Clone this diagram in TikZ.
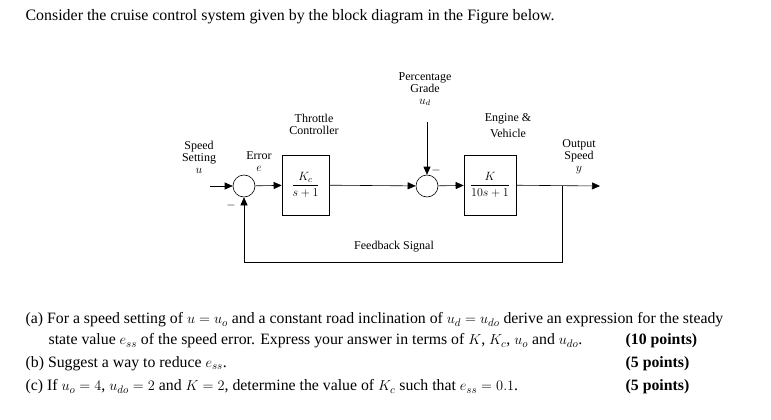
\documentclass[tikz,border=0pt]{standalone}
\usepackage{amsmath}
\usepackage{fontspec}
\setmainfont{Liberation Serif}
\usetikzlibrary{arrows.meta}
\begin{document}
\begin{tikzpicture}[x=1pt,y=-1pt,
 blk/.style={draw,minimum width=47pt,minimum height=60pt,inner sep=0pt,font=\fontsize{13}{14}\selectfont},
 sum/.style={draw,circle,minimum size=22pt,inner sep=0pt},
 lbl/.style={font=\fontsize{12}{12}\selectfont,align=center},
 txt/.style={font=\fontsize{15.8}{18}\selectfont,anchor=west},
 sig/.style={-{Triangle[length=8pt,width=7pt]}},
 line width=0.6pt]
\useasboundingbox (0,0) rectangle (771,420);
\node[txt,font=\fontsize{15.9}{18}\selectfont] (title) at (22,17) {Consider the cruise control system given by the block diagram in the Figure below.};
\node[sum] (s1) at (244,186) {};
\node[blk] (b1) at (305.5,185) {$\dfrac{K_c}{s+1}$};
\node[sum] (s2) at (427,186) {};
\node[blk,minimum width=52pt] (b2) at (490,185) {$\dfrac{K}{10s+1}$};
\coordinate (in) at (210,186);
\coordinate (out) at (600,186);
\coordinate (br) at (562,186);
\coordinate (fb1) at (562,262);
\coordinate (fb2) at (244,262);
\coordinate (dtop) at (427,122);
\draw[sig] (in) -- (s1);
\draw[sig] (s1) -- (b1);
\draw[sig] (b1) -- (s2);
\draw[sig] (s2) -- (b2);
\draw[sig] (b2) -- (out);
\draw[sig] (br) -- (fb1) -- (fb2) -- (s1);
\draw[sig] (dtop) -- (s2);
\node[lbl] (l1) at (199,157) {Speed\\Setting\\$u$};
\node[lbl] (l2) at (259,162) {Error\\$e$};
\node[lbl] (l3) at (314,124) {Throttle\\Controller};
\node[lbl] (l4) at (425,89) {Percentage\\Grade\\$u_d$};
\node[lbl] (l5) at (508,126) {Engine \&\\[4pt]Vehicle};
\node[lbl] (l6) at (579,157) {Output\\Speed\\$y$};
\node[lbl] (l7) at (394,247) {Feedback Signal};
\node[lbl] (m1) at (231,205) {$-$};
\node[lbl] (m2) at (436,170) {$-$};
\node[txt] (a1) at (22,320) {(a) For a speed setting of $u=u_o$ and a constant road inclination of $u_d=u_{do}$ derive an expression for the steady};
\node[txt] (a2) at (45,341) {state value $e_{ss}$ of the speed error. Express your answer in terms of $K$, $K_c$, $u_o$ and $u_{do}$.};
\node[txt] (b) at (22,364) {(b) Suggest a way to reduce $e_{ss}$.};
\node[txt] (c) at (22,387) {(c) If $u_o=4$, $u_{do}=2$ and $K=2$, determine the value of $K_c$ such that $e_{ss}=0.1$.};
\node[txt,font=\bfseries\fontsize{15.8}{18}\selectfont] (p1) at (622,341) {(10 points)};
\node[txt,font=\bfseries\fontsize{15.8}{18}\selectfont] (p2) at (622,364) {(5 points)};
\node[txt,font=\bfseries\fontsize{15.8}{18}\selectfont] (p3) at (622,387) {(5 points)};
\end{tikzpicture}
\end{document}
